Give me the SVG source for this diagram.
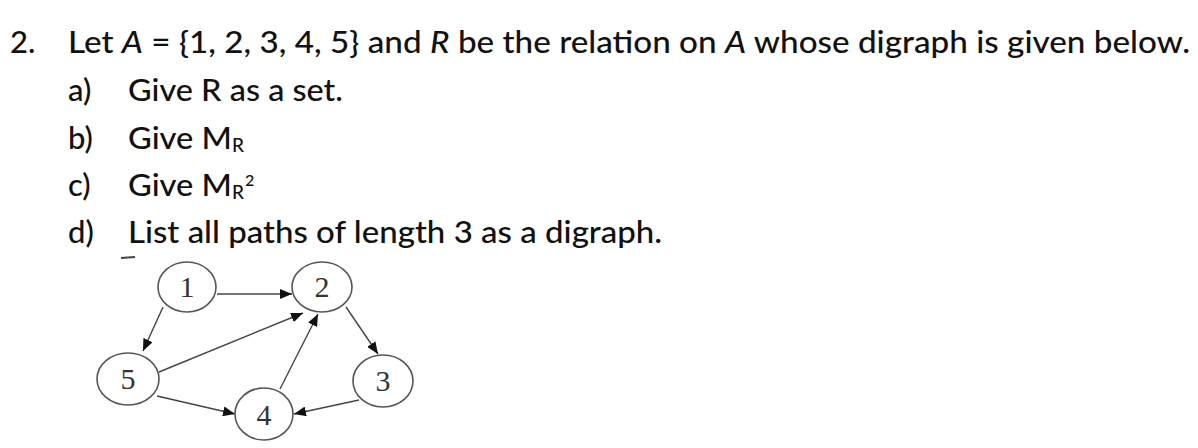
<svg xmlns="http://www.w3.org/2000/svg" width="1198" height="448" viewBox="0 0 1198 448">
<style>
.t{font-family:Lato,"Open Sans","Liberation Sans",sans-serif;font-size:31px;fill:#111;font-weight:500}
.i{font-style:italic}
.sub{font-size:19px}
.node ellipse{fill:#fff;stroke:#555;stroke-width:1.6}
.node text{font-family:"Liberation Serif","DejaVu Serif",serif;font-size:30px;fill:#333;text-anchor:middle}
.edge{stroke:#444;stroke-width:1.4;fill:none;marker-end:url(#ah)}
</style>
<defs>
<marker id="ah" markerWidth="12" markerHeight="10" refX="12" refY="5" orient="auto" markerUnits="userSpaceOnUse">
<path d="M0,0 L12,5 L0,10 Z" fill="#111"/>
</marker>
</defs>
<rect width="1198" height="448" fill="#fff"/>
<g id="text">
<text class="t" x="10" y="53">2.</text>
<text class="t" x="68" y="53" textLength="1122" lengthAdjust="spacingAndGlyphs">Let <tspan class="i">A</tspan> = {1, 2, 3, 4, 5} and <tspan class="i">R</tspan> be the relation on <tspan class="i">A</tspan> whose digraph is given below.</text>
<text class="t" x="68" y="101">a)</text>
<text class="t" x="128" y="101" textLength="215" lengthAdjust="spacingAndGlyphs">Give R as a set.</text>
<text class="t" x="68" y="149">b)</text>
<text class="t" x="128" y="149" textLength="104" lengthAdjust="spacingAndGlyphs">Give M</text>
<text class="t sub" x="232" y="152">R</text>
<text class="t" x="68" y="196">c)</text>
<text class="t" x="128" y="196" textLength="104" lengthAdjust="spacingAndGlyphs">Give M</text>
<text class="t sub" x="232" y="199">R</text>
<text class="t sub" x="245" y="186" style="font-size:16px">2</text>
<text class="t" x="68" y="243">d)</text>
<text class="t" x="128" y="243" textLength="534" lengthAdjust="spacingAndGlyphs">List all paths of length 3 as a digraph.</text>
<line x1="121" y1="258" x2="135" y2="257" stroke="#444" stroke-width="2"/>
</g>
<g id="connectors">
<line class="edge" x1="217" y1="294" x2="292" y2="294"/>
<line class="edge" x1="163" y1="307" x2="143" y2="351"/>
<line class="edge" x1="159" y1="372" x2="303" y2="313"/>
<line class="edge" x1="280" y1="389" x2="318" y2="314"/>
<line class="edge" x1="346" y1="307" x2="378" y2="354"/>
<line class="edge" x1="359" y1="400" x2="294" y2="414"/>
<line class="edge" x1="157" y1="396" x2="235" y2="414"/>
</g>
<g id="node1" class="node"><ellipse cx="187" cy="287" rx="29" ry="25"/><text x="187" y="297">1</text></g>
<g id="node2" class="node"><ellipse cx="322" cy="287" rx="30" ry="25"/><text x="322" y="297">2</text></g>
<g id="node3" class="node"><ellipse cx="383" cy="381" rx="30" ry="26"/><text x="383" y="391">3</text></g>
<g id="node4" class="node"><ellipse cx="264" cy="414" rx="29" ry="26"/><text x="264" y="425">4</text></g>
<g id="node5" class="node"><ellipse cx="128" cy="379" rx="31" ry="26"/><text x="128" y="389">5</text></g>
</svg>
